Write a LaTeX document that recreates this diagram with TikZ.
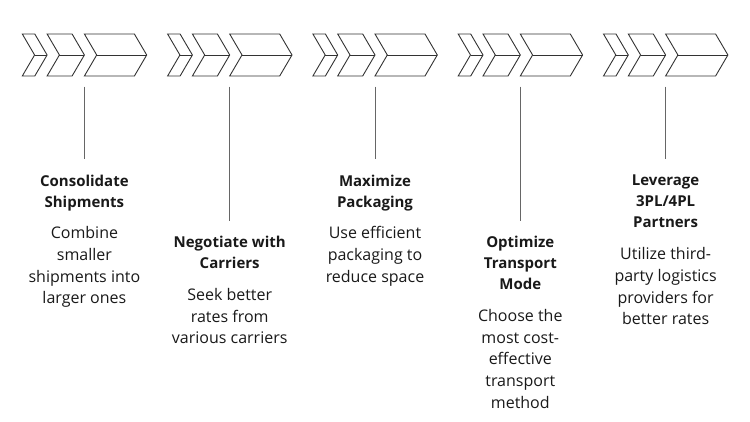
\documentclass[tikz,border=0pt]{standalone}
\usepackage{fontspec}
\setmainfont{Open Sans}
\usepackage{tikz}

\begin{document}
\begin{tikzpicture}[x=1pt,y=-1pt,
  chev/.style={draw=black!80, line width=0.9pt, line join=miter},
  stem/.style={draw=black!60, line width=1pt},
  head/.style={font=\fontsize{15}{21}\selectfont\bfseries, text=black!90, align=center, inner sep=0pt, anchor=north},
  desc/.style={font=\fontsize{16}{21.7}\selectfont, text=black!90, align=center, inner sep=0pt, anchor=north}]
  \useasboundingbox (0,0) rectangle (750,422);
  \foreach \i/\ty/\n/\htxt/\dtxt in {
    1/174.5/2/{Consolidate\\Shipments}/{Combine\\smaller\\shipments into\\larger ones},
    2/236.2/2/{Negotiate with\\Carriers}/{Seek better\\rates from\\various carriers},
    3/174.5/2/{Maximize\\Packaging}/{Use efficient\\packaging to\\reduce space},
    4/236.2/3/{Optimize\\Transport\\Mode}/{Choose the\\most cost-\\effective\\transport\\method},
    5/174.5/3/{Leverage\\3PL/4PL\\Partners}/{Utilize third-\\party logistics\\providers for\\better rates}}
  {
    \pgfmathsetmacro\xo{22.3+145.3*(\i-1)}
    \pgfmathsetmacro\dy{\ty+21*(\n-1)+31}
    % chevrons
    \foreach \l/\w in {0/12.5, 24.8/25, 62.1/50} {
      \draw[chev] (\xo+\l,34) -- ++(\w,0) -- ++(12.3,21) -- ++(-12.3,21)
        -- ++(-\w,0) -- ++(12.3,-21) -- cycle;
      \draw[chev] (\xo+\l+12.3,55) -- ++(\w,0);
    }
    \coordinate (root\i) at (\xo+62.1,86.7);
    \node[head] (head\i) at (\xo+62.1,\ty) {\htxt};
    \node[desc] (desc\i) at (\xo+62.1,\dy) {\dtxt};
    \draw[stem, shorten >=15pt] (root\i) -- (head\i.north);
  }
\end{tikzpicture}
\end{document}
